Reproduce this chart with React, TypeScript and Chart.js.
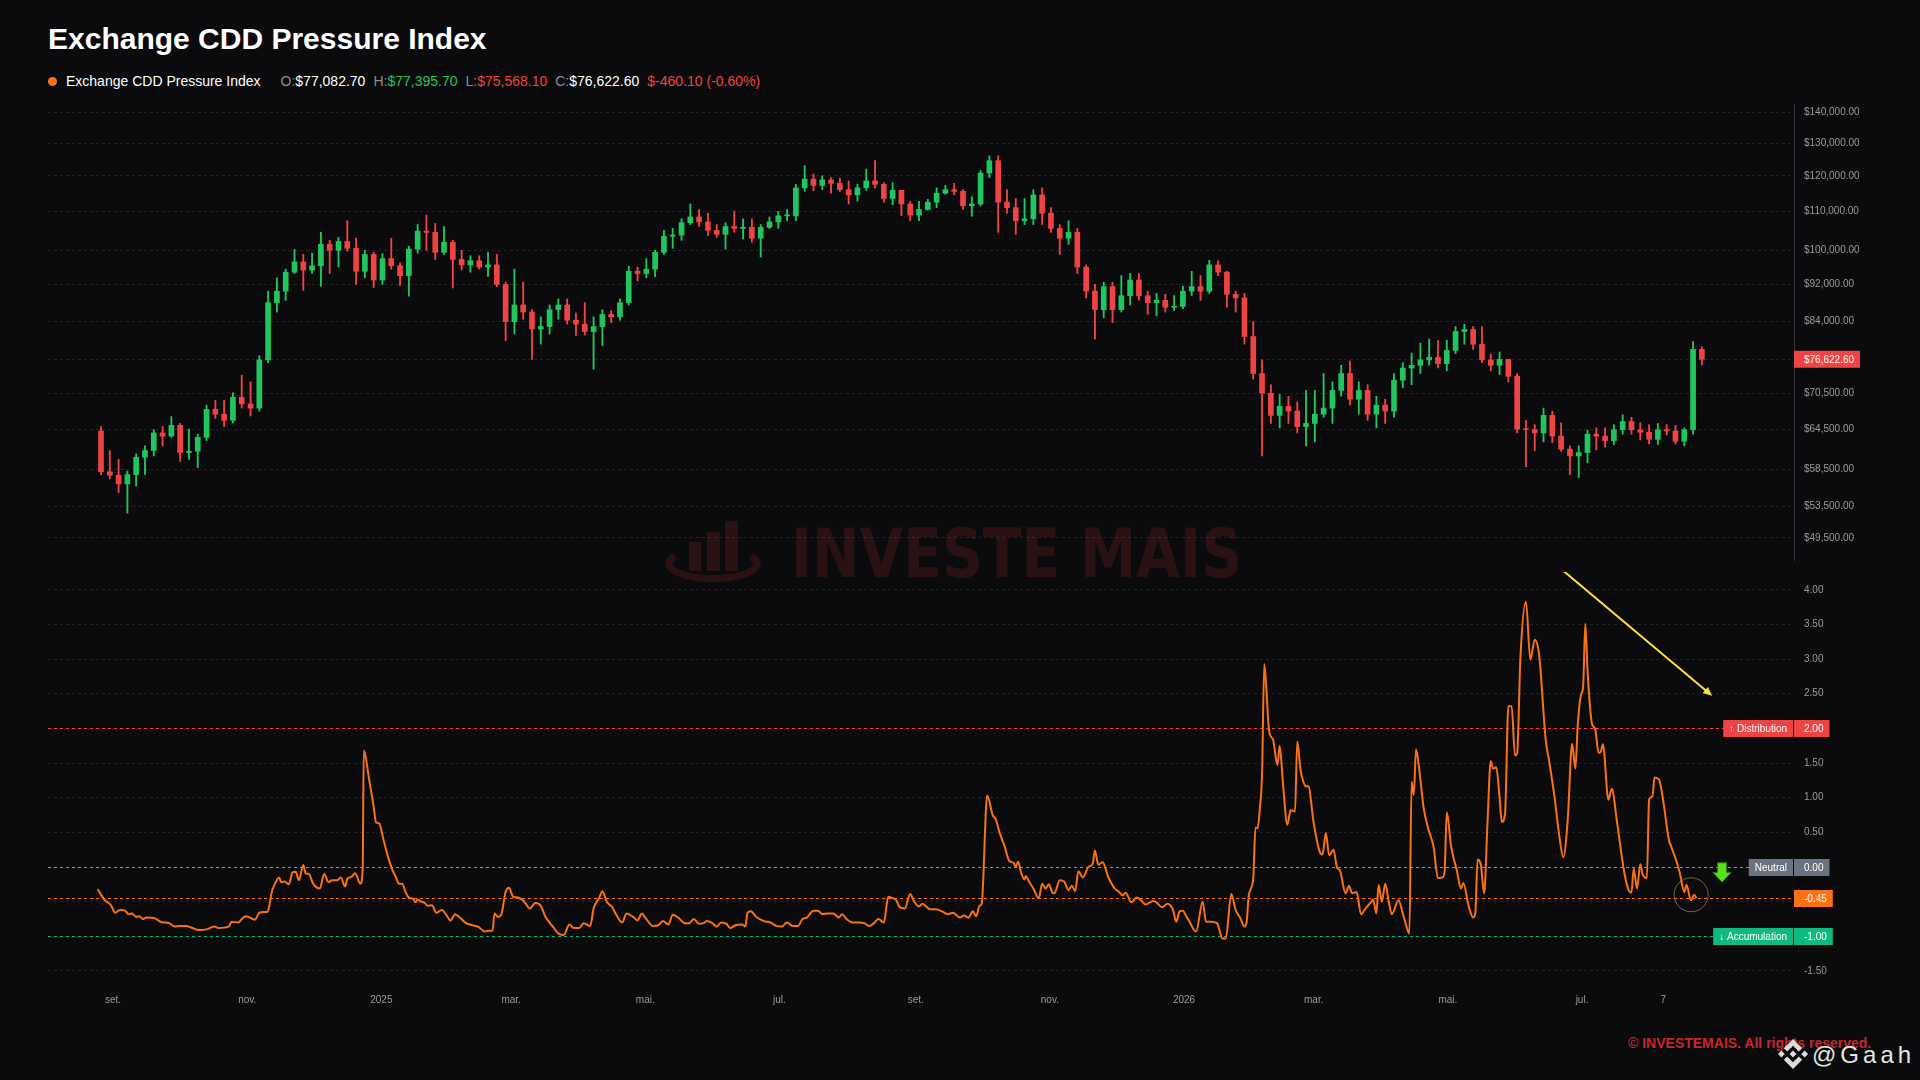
import React, { useEffect, useRef } from 'react';
import Chart from 'chart.js/auto';

const FONT = '"Liberation Sans", Arial, Helvetica, sans-serif';
const BG = '#0b0b0e';
const GREEN = '#22c55e';
const RED = '#ef4444';
const ORANGE = '#f97316';
const TEAL = '#10b981';
const GRID = 'rgba(255, 255, 255, 0.1)';
const TICK = '#9a9a9a';

// x axis is in days since 25 Aug 2024
const X_MIN = -22.6;
const X_MAX = 771.4;
const AXIS_WIDTH = 126;
const PLOT_LEFT = 48;

// BTC candles, one per 4 days (open = previous close)
const CANDLE_DAYS = 4;
const firstOpen = 64300;
const closes = [
  58200, 57700, 56500, 57800, 60300, 61300, 64000, 63500, 65200, 61000,
  61200, 63300, 67800, 67000, 66000, 69800, 68700, 68000, 76500, 88000,
  90500, 94800, 97200, 95300, 96300, 101500, 100000, 102200, 100500, 95000,
  99000, 93000, 98000, 96300, 94000, 100300, 104800, 104500, 99500, 102000,
  97800, 96500, 97500, 96000, 96500, 92000, 84000, 87500, 86000, 82500,
  83000, 86500, 87500, 84300, 83500, 82000, 83000, 85500, 85000, 88000,
  95000, 94500, 95500, 99500, 103500, 103800, 107000, 108500, 107200, 105000,
  104000, 106000, 105500, 105800, 103000, 105800, 107200, 108800, 108800, 116500,
  119000, 117200, 118800, 117800, 116000, 114500, 116500, 118500, 117500, 113500,
  115800, 112000, 109000, 110500, 112500, 115000, 116000, 115500, 111500, 112000,
  120800, 124500, 112500, 111000, 107500, 108000, 114500, 109500, 105500, 103000,
  104500, 96000, 90500, 86500, 91500, 86500, 89500, 93000, 89500, 88000,
  88500, 87000, 87200, 90500, 91500, 90500, 96500, 94800, 89800, 89000,
  81000, 74000, 70500, 66800, 68300, 67500, 65000, 65500, 67000, 68000,
  71000, 74000, 69500, 71000, 67000, 68500, 67500, 72800, 75000, 75500,
  76500, 77000, 75800, 78300, 82000, 82400, 79500, 76500, 75500, 76600,
  73500, 64600, 64500, 64000, 66800, 63500, 61500, 60500, 61000, 63800,
  63500, 62800, 64500, 65800, 64500, 64100, 63000, 64500, 64300, 62700,
  64500, 78500, 76622.6,
];
const highs = [
  65000, 61300, 60000, 58300, 60800, 62000, 64500, 65000, 66600, 65500,
  64600, 63800, 68500, 69300, 69300, 70600, 73700, 72500, 77300, 90500,
  93500, 95500, 100200, 99000, 99300, 104500, 102500, 103200, 107500, 103000,
  100000, 99500, 99200, 103000, 97000, 101000, 106500, 109000, 106800, 106000,
  102500, 100000, 98700, 98700, 99500, 99000, 92500, 95500, 92500, 86500,
  85000, 87500, 88800, 88800, 85800, 88000, 85000, 86500, 86300, 88800,
  96200, 96000, 98000, 100000, 105000, 105500, 108000, 112000, 110500, 109500,
  106500, 107000, 110000, 108000, 108000, 106500, 108500, 110000, 110500, 117500,
  123000, 120500, 120000, 119500, 119300, 118500, 117500, 122000, 124500, 118000,
  118000, 115500, 112700, 112700, 113300, 116500, 117200, 117800, 116000, 114000,
  121500, 126000, 126000, 116000, 113500, 113500, 116000, 116500, 111000, 106500,
  107500, 105500, 96500, 92000, 92500, 92500, 94000, 94500, 94500, 90500,
  90000, 89800, 89500, 91600, 95000, 94000, 97600, 97500, 95000, 90500,
  90000, 84000, 76500, 72000, 70300, 70000, 69000, 71000, 71000, 74000,
  72500, 75500, 76300, 72500, 72000, 70000, 69500, 74000, 76000, 77800,
  79700, 80500, 80200, 80300, 83000, 83500, 83000, 83000, 77600, 78000,
  76500, 74000, 66000, 65300, 68000, 67500, 65600, 62000, 62000, 64400,
  64800, 64800, 65300, 66900, 66500, 65600, 65300, 65500, 65300, 65200,
  64800, 80000, 79000,
];
const lows = [
  57800, 57200, 55300, 52600, 56200, 57800, 60500, 62000, 63300, 59700,
  60000, 58800, 62800, 66300, 65000, 65600, 68000, 66700, 67500, 76000,
  86000, 88500, 94500, 90700, 94500, 91600, 94500, 96000, 99800, 92000,
  93500, 91300, 92000, 95500, 91800, 89400, 99300, 100000, 97800, 99000,
  91200, 95300, 94800, 95500, 93800, 91500, 80200, 81500, 84500, 76600,
  79500, 81500, 84500, 83500, 81200, 81300, 74800, 79200, 83800, 84300,
  87500, 92800, 93500, 93700, 99000, 100500, 102500, 106500, 106000, 103700,
  103200, 100300, 104500, 102800, 102000, 98400, 105500, 105500, 107500, 107500,
  115500, 115700, 116000, 115000, 115500, 112000, 112800, 115800, 116500, 112500,
  111800, 108800, 107500, 107500, 110300, 111000, 114700, 114500, 110500, 108700,
  111500, 119500, 104500, 109500, 104000, 106500, 106500, 106500, 104500, 99000,
  101500, 94500, 89000, 80500, 84800, 83800, 86000, 87500, 88500, 85500,
  85200, 86000, 86300, 86700, 89500, 88500, 90000, 94000, 87000, 86000,
  79500, 73000, 60500, 65500, 64800, 65500, 64000, 62000, 62600, 66500,
  65500, 70000, 68500, 67000, 66000, 64800, 65500, 66500, 71500, 72000,
  74000, 75500, 75000, 74500, 77700, 79500, 78500, 76000, 74500, 73800,
  72500, 64000, 58900, 61300, 62600, 62500, 61200, 57800, 57400, 59500,
  61400, 61800, 62200, 63800, 63800, 62900, 62300, 62200, 63700, 62300,
  62000, 63800, 75568.1,
];

const priceTicks = [140000, 130000, 120000, 110000, 100000, 92000, 84000, 76622.6, 70500, 64500, 58500, 53500, 49500];
const lastPrice = 76622.6;

// Exchange CDD pressure index, read at the turning points of the line
const cddDays = [
  0, 3, 6, 8, 10, 12.5, 14, 15.5, 17.5, 19,
  20.5, 22, 26, 28.5, 32.5, 35, 37.5, 40, 43, 46,
  49.5, 53, 55, 59.5, 61, 64, 65.5, 67.5, 71.5, 73.5,
  75.5, 77, 78, 79, 80.5, 82.5, 83.5, 85, 87, 88.5,
  90, 91.5, 93.5, 94.5, 96, 98, 101, 103, 105, 106.5,
  109, 110.5, 112.5, 113.5, 115.5, 117, 119.5, 120.5, 121, 123.5,
  125.5, 126.5, 128, 130, 132, 134, 135.5, 137, 138.5, 140,
  141.5, 143.5, 144.5, 145.5, 147, 148.5, 150, 152, 154, 156.5,
  158.5, 160.5, 162.5, 165, 167.5, 170.5, 173, 176, 178, 179.5,
  180.5, 182, 183.5, 185.5, 187, 189, 191, 194, 196.5, 199,
  201.5, 203.5, 207, 210, 212, 214.5, 216.5, 219, 221, 224,
  225.5, 228, 229.5, 231.5, 234, 236, 238.5, 240.5, 242, 243.5,
  245.5, 247.5, 249, 252.5, 255, 257, 259.5, 261.5, 264, 267,
  269, 271, 273.5, 275.5, 277, 279.5, 281.5, 283.5, 286, 287.5,
  290, 293, 294.5, 295.5, 297, 299.5, 303, 306, 308.5, 311,
  313.5, 316, 318.5, 320.5, 322.5, 324, 325.5, 327.5, 329.5, 332,
  334.5, 337, 338.5, 340.5, 343.5, 346.5, 348.5, 351, 353, 355,
  357.5, 359.5, 361.5, 363, 364.5, 367, 369.5, 371, 373.5, 375,
  378.5, 381, 384, 386.5, 389, 392, 394, 396, 398, 399.5,
  401, 402, 404.5, 407, 408.5, 410, 412.5, 414.5, 416.5, 417.5,
  418.5, 420, 421.5, 422, 423.5, 425.5, 428, 429.5, 431, 432.5,
  434.5, 435.5, 437.5, 439.5, 441.5, 443, 444.5, 446, 448, 450.5,
  452.5, 453.5, 455, 457, 459.5, 462.5, 464.5, 466, 467.5, 470,
  472.5, 474.5, 476.5, 480, 481.5, 484, 486.5, 489, 490.5, 492,
  493.5, 495, 496, 499.5, 502.5, 504, 506.5, 509, 511.5, 513,
  515.5, 517.5, 519.5, 521.5, 522.5, 523.5, 525.5, 526.5, 527.5, 528.5,
  529.5, 530.5, 531.5, 532.5, 534, 534.5, 536.5, 537.5, 539, 541,
  542.5, 544.5, 545.5, 547, 548, 549.5, 550.5, 553, 555.5, 557,
  558.5, 560, 562, 563.5, 565, 567.5, 569, 570.5, 572.5, 574.5,
  576.5, 579, 580, 581.5, 582.5, 584, 585.5, 587, 588.5, 591.5,
  593.5, 595, 596.5, 597.5, 598.5, 599.5, 601, 603, 605, 607.5,
  609.5, 611.5, 612.5, 613.5, 615.5, 618, 620, 621, 623.5, 625.5,
  626.5, 627.5, 629, 630.5, 632, 633.5, 634.5, 636, 637.5, 638.5,
  640, 641.5, 643, 644.5, 645.5, 647, 649.5, 651.5, 653.5, 655.5,
  658.5, 660, 662.5, 664.5, 666.5, 668.5, 670.5, 672, 673, 674.5,
  675.5, 676.5, 677.5, 679.5, 681, 682.5, 683.5, 684.5, 687, 688.5,
  691, 694, 696, 697.5, 698.5, 700, 701.5, 702.5, 704.5, 705.5,
  707, 708, 710, 712, 714.5, 715.5, 718, 719.5, 721.5, 722.5,
  724.5, 726, 727,
];
const cddValues = [
  -0.32, -0.47, -0.55, -0.66, -0.62, -0.63, -0.68, -0.67, -0.72, -0.71,
  -0.75, -0.73, -0.74, -0.79, -0.81, -0.86, -0.85, -0.85, -0.88, -0.91,
  -0.9, -0.86, -0.88, -0.86, -0.79, -0.8, -0.75, -0.71, -0.76, -0.66,
  -0.65, -0.65, -0.57, -0.38, -0.25, -0.15, -0.22, -0.21, -0.25, -0.08,
  -0.07, -0.19, 0.03, -0.09, -0.1, -0.24, -0.31, -0.1, -0.22, -0.19,
  -0.19, -0.15, -0.28, -0.17, -0.14, -0.09, -0.24, -0.02, 1.68, 1.25,
  0.87, 0.65, 0.63, 0.39, 0.15, -0.04, -0.14, -0.24, -0.24, -0.36,
  -0.44, -0.46, -0.51, -0.47, -0.5, -0.51, -0.56, -0.55, -0.66, -0.62,
  -0.69, -0.77, -0.68, -0.74, -0.81, -0.84, -0.86, -0.93, -0.92, -0.92,
  -0.67, -0.72, -0.69, -0.36, -0.3, -0.43, -0.44, -0.5, -0.6, -0.52,
  -0.56, -0.71, -0.86, -0.97, -0.98, -0.83, -0.88, -0.88, -0.81, -0.85,
  -0.6, -0.45, -0.35, -0.5, -0.58, -0.7, -0.8, -0.67, -0.69, -0.72,
  -0.77, -0.67, -0.73, -0.85, -0.84, -0.78, -0.83, -0.69, -0.73, -0.81,
  -0.81, -0.75, -0.82, -0.81, -0.78, -0.81, -0.86, -0.8, -0.82, -0.88,
  -0.84, -0.83, -0.86, -0.66, -0.64, -0.72, -0.78, -0.8, -0.85, -0.86,
  -0.8, -0.85, -0.85, -0.75, -0.73, -0.67, -0.63, -0.63, -0.68, -0.67,
  -0.67, -0.73, -0.68, -0.75, -0.8, -0.8, -0.81, -0.85, -0.81, -0.75,
  -0.8, -0.43, -0.45, -0.47, -0.57, -0.6, -0.39, -0.48, -0.57, -0.53,
  -0.61, -0.61, -0.64, -0.68, -0.66, -0.73, -0.7, -0.73, -0.64, -0.71,
  -0.56, -0.53, 1.03, 0.75, 0.68, 0.51, 0.29, 0.09, 0.06, 0.0,
  0.08, -0.09, -0.18, -0.13, -0.21, -0.31, -0.45, -0.24, -0.31, -0.25,
  -0.38, -0.36, -0.19, -0.21, -0.33, -0.27, -0.35, -0.06, -0.15, 0.0,
  0.05, 0.24, 0.03, 0.07, -0.14, -0.31, -0.36, -0.41, -0.37, -0.51,
  -0.44, -0.48, -0.54, -0.49, -0.51, -0.58, -0.53, -0.62, -0.79, -0.64,
  -0.63, -0.71, -0.76, -0.93, -0.5, -0.79, -0.79, -0.81, -1.03, -1.03,
  -0.39, -0.62, -0.73, -0.86, -0.79, -0.4, -0.16, 0.57, 0.56, 0.85,
  1.35, 2.93, 2.55, 2.02, 1.86, 1.84, 1.47, 1.75, 1.21, 0.61,
  0.82, 0.8, 1.81, 1.4, 1.26, 1.16, 1.17, 0.63, 0.24, 0.18,
  0.49, 0.17, 0.25, 0.0, -0.06, -0.38, -0.27, -0.38, -0.36, -0.68,
  -0.6, -0.51, -0.47, -0.67, -0.26, -0.5, -0.24, -0.48, -0.68, -0.48,
  -0.67, -0.84, -0.96, 1.23, 1.04, 1.7, 1.4, 0.85, 0.56, 0.29,
  -0.16, -0.15, -0.07, 0.79, 0.29, -0.04, -0.31, -0.23, -0.57, -0.73,
  -0.66, 0.11, 0.03, -0.38, 0.63, 1.53, 1.42, 1.44, 1.01, 0.65,
  0.77, 2.32, 2.32, 1.61, 1.64, 3.03, 3.83, 2.99, 3.28, 3.06,
  1.83, 1.54, 1.01, 0.49, 0.14, 0.68, 1.78, 1.42, 2.02, 2.48,
  2.6, 3.51, 2.84, 2.07, 1.99, 1.65, 1.66, 1.77, 0.97, 1.13,
  0.63, -0.04, -0.32, -0.37, -0.02, -0.31, 0.04, -0.1, -0.16, 0.97,
  1.02, 1.29, 1.26, 0.94, 0.39, 0.3, 0.08, -0.09, -0.36, -0.26,
  -0.48, -0.4, -0.45,
];
const cddTicks = [4, 3.5, 3, 2.5, 2, 1.5, 1, 0.5, 0, -0.5, -1, -1.5];
const hiddenCddLabels = [2, 0, -0.5, -1];

const monthDays = [7, 68, 129, 188, 249, 310, 372, 433, 494, 553, 614, 675, 712];
const monthLabels = ['set.', 'nov.', '2025', 'mar.', 'mai.', 'jul.', 'set.', 'nov.', '2026', 'mar.', 'mai.', 'jul.', '7'];

const levels = [
  { value: 2, name: '↑ Distribution', line: RED, box: RED },
  { value: 0, name: 'Neutral', line: '#8d9098', box: '#6b7280' },
  { value: -0.45, name: '', line: ORANGE, box: ORANGE },
  { value: -1, name: '↓ Accumulation', line: TEAL, box: TEAL },
];

// drawn marks on the indicator panel
const trendArrow = { fromDay: 665.5, fromValue: 4.3, toDay: 734.2, toValue: 2.47 };
const focusCircle = { day: 724.6, value: -0.4, radius: 17 };
const signalArrow = { day: 738.7, topValue: 0.06, bottomValue: -0.22 };

const fmtPrice = (v: number) =>
  '$' + v.toLocaleString('en-US', { minimumFractionDigits: 2, maximumFractionDigits: 2 });

// keep the plot area exactly where the layout padding puts it
const fixAxis = (s: any) => {
  s.width = AXIS_WIDTH;
  s.paddingTop = 0;
  s.paddingBottom = 0;
};

const priceTag = {
  id: 'priceTag',
  afterDraw(chart: any) {
    const { ctx, chartArea, scales } = chart;
    const y = scales.y.getPixelForValue(lastPrice);
    const text = fmtPrice(lastPrice);
    ctx.save();
    ctx.font = `10px ${FONT}`;
    const w = ctx.measureText(text).width + 16;
    ctx.fillStyle = RED;
    ctx.fillRect(chartArea.right, y - 8.5, w, 17);
    ctx.fillStyle = '#ffffff';
    ctx.textBaseline = 'middle';
    ctx.fillText(text, chartArea.right + 10, y + 0.5);
    ctx.restore();
  },
};

const levelMarks = {
  id: 'levelMarks',
  beforeDatasetsDraw(chart: any) {
    const { ctx, chartArea, scales } = chart;
    ctx.save();
    ctx.setLineDash([3, 3]);
    ctx.lineWidth = 1;
    levels.forEach((l) => {
      const y = Math.round(scales.y.getPixelForValue(l.value)) + 0.5;
      ctx.strokeStyle = l.line;
      ctx.beginPath();
      ctx.moveTo(chartArea.left, y);
      ctx.lineTo(chartArea.right, y);
      ctx.stroke();
    });
    ctx.restore();
  },
  afterDraw(chart: any) {
    const { ctx, chartArea, scales } = chart;
    const xs = scales.x;
    const ys = scales.y;
    ctx.save();
    ctx.font = `10px ${FONT}`;
    ctx.textBaseline = 'middle';
    levels.forEach((l) => {
      const y = Math.round(ys.getPixelForValue(l.value)) + 0.5;
      const valueText = l.value.toFixed(2);
      const vw = ctx.measureText(valueText).width + 16;
      ctx.fillStyle = l.box;
      ctx.fillRect(chartArea.right, y - 8.5, vw, 17);
      ctx.fillStyle = '#ffffff';
      ctx.fillText(valueText, chartArea.right + 10, y + 0.5);
      if (l.name) {
        const nw = ctx.measureText(l.name).width + 12;
        ctx.fillStyle = l.box;
        ctx.fillRect(chartArea.right - 1 - nw, y - 8.5, nw, 17);
        ctx.fillStyle = '#ffffff';
        ctx.fillText(l.name, chartArea.right - 1 - nw + 6, y + 0.5);
      }
    });

    // trend arrow
    const ax1 = xs.getPixelForValue(trendArrow.fromDay);
    const ay1 = ys.getPixelForValue(trendArrow.fromValue);
    const ax2 = xs.getPixelForValue(trendArrow.toDay);
    const ay2 = ys.getPixelForValue(trendArrow.toValue);
    const ang = Math.atan2(ay2 - ay1, ax2 - ax1);
    ctx.strokeStyle = '#fde047';
    ctx.fillStyle = '#fde047';
    ctx.lineWidth = 2;
    ctx.beginPath();
    ctx.moveTo(ax1, ay1);
    ctx.lineTo(ax2 - 6 * Math.cos(ang), ay2 - 6 * Math.sin(ang));
    ctx.stroke();
    ctx.beginPath();
    ctx.moveTo(ax2, ay2);
    ctx.lineTo(ax2 - 9 * Math.cos(ang) + 4 * Math.sin(ang), ay2 - 9 * Math.sin(ang) - 4 * Math.cos(ang));
    ctx.lineTo(ax2 - 9 * Math.cos(ang) - 4 * Math.sin(ang), ay2 - 9 * Math.sin(ang) + 4 * Math.cos(ang));
    ctx.closePath();
    ctx.fill();

    // circle around the latest reading
    ctx.lineWidth = 1;
    ctx.strokeStyle = 'rgba(200, 158, 70, 0.6)';
    ctx.beginPath();
    ctx.arc(xs.getPixelForValue(focusCircle.day), ys.getPixelForValue(focusCircle.value), focusCircle.radius, 0, Math.PI * 2);
    ctx.stroke();

    // green down arrow
    const gx = xs.getPixelForValue(signalArrow.day);
    const gTop = ys.getPixelForValue(signalArrow.topValue);
    const gBot = ys.getPixelForValue(signalArrow.bottomValue);
    const gMid = gTop + (gBot - gTop) * 0.5;
    ctx.beginPath();
    ctx.moveTo(gx - 4.5, gTop);
    ctx.lineTo(gx + 4.5, gTop);
    ctx.lineTo(gx + 4.5, gMid);
    ctx.lineTo(gx + 9, gMid);
    ctx.lineTo(gx, gBot);
    ctx.lineTo(gx - 9, gMid);
    ctx.lineTo(gx - 4.5, gMid);
    ctx.closePath();
    ctx.fillStyle = '#5ce01b';
    ctx.fill();
    ctx.strokeStyle = '#2d7a0c';
    ctx.stroke();
    ctx.restore();
  },
};

const App: React.FC = () => {
  const priceRef = useRef<HTMLCanvasElement>(null);
  const cddRef = useRef<HTMLCanvasElement>(null);

  useEffect(() => {
    if (!priceRef.current || !cddRef.current) return;
    Chart.defaults.font.family = FONT;
    Chart.defaults.color = TICK;

    const opens = closes.map((c, i) => (i === 0 ? firstOpen : closes[i - 1]));
    const candleX = closes.map((_, i) => i * CANDLE_DAYS + 1.5);
    const colors = closes.map((c, i) => (c >= opens[i] ? GREEN : RED));

    const priceChart = new Chart(priceRef.current, {
      type: 'bar',
      data: {
        datasets: [
          {
            data: closes.map((_, i) => ({ x: candleX[i], y: [lows[i], highs[i]] })) as any,
            backgroundColor: colors,
            barThickness: 1.2,
            grouped: false,
          },
          {
            data: closes.map((c, i) => ({ x: candleX[i], y: [opens[i], c] })) as any,
            backgroundColor: colors,
            barThickness: 5,
            minBarLength: 1,
            grouped: false,
          },
        ],
      },
      options: {
        animation: false,
        responsive: false,
        events: [],
        layout: { padding: { left: PLOT_LEFT, top: 10, bottom: 30, right: 0 } },
        plugins: { legend: { display: false }, tooltip: { enabled: false } },
        scales: {
          x: { type: 'linear', min: X_MIN, max: X_MAX, display: false, offset: false },
          y: {
            type: 'logarithmic',
            position: 'right',
            min: 46908,
            max: 143010,
            afterBuildTicks: (s: any) => {
              s.ticks = priceTicks.map((value) => ({ value }));
            },
            afterFit: fixAxis,
            ticks: {
              autoSkip: false,
              padding: 10,
              color: TICK,
              font: { size: 10 },
              callback: (v: any) => (Number(v) === lastPrice ? '' : fmtPrice(Number(v))),
            },
            grid: { color: GRID, drawTicks: false },
            border: { display: true, color: '#34343a', dash: [3, 3] },
          },
        },
      },
      plugins: [priceTag],
    });

    const cddChart = new Chart(cddRef.current, {
      type: 'line',
      data: {
        datasets: [
          {
            data: cddDays.map((d, i) => ({ x: d, y: cddValues[i] })),
            borderColor: ORANGE,
            borderWidth: 2,
            pointRadius: 0,
            cubicInterpolationMode: 'monotone',
          },
        ],
      },
      options: {
        animation: false,
        responsive: false,
        events: [],
        layout: { padding: { left: PLOT_LEFT, top: 8, bottom: 8, right: 0 } },
        plugins: { legend: { display: false }, tooltip: { enabled: false } },
        scales: {
          x: {
            type: 'linear',
            min: X_MIN,
            max: X_MAX,
            afterBuildTicks: (s: any) => {
              s.ticks = monthDays.map((value) => ({ value }));
            },
            afterFit: (s: any) => {
              s.height = 30;
            },
            ticks: {
              autoSkip: false,
              maxRotation: 0,
              padding: 12,
              color: TICK,
              font: { size: 10 },
              callback: (v: any) => {
                const i = monthDays.indexOf(Number(v));
                return i >= 0 ? monthLabels[i] : '';
              },
            },
            grid: { display: false, drawTicks: false },
            border: { display: false },
          },
          y: {
            type: 'linear',
            position: 'right',
            min: -1.659,
            max: 4.141,
            afterBuildTicks: (s: any) => {
              s.ticks = cddTicks.map((value) => ({ value }));
            },
            afterFit: fixAxis,
            ticks: {
              autoSkip: false,
              padding: 10,
              color: TICK,
              font: { size: 10 },
              callback: (v: any) => (hiddenCddLabels.includes(Number(v)) ? '' : Number(v).toFixed(2)),
            },
            grid: {
              drawTicks: false,
              color: (c: any) => ([2, 0, -1].includes(c.tick?.value) ? 'rgba(0,0,0,0)' : GRID),
            },
            border: { display: false, dash: [3, 3] },
          },
        },
      },
      plugins: [levelMarks],
    });

    return () => {
      priceChart.destroy();
      cddChart.destroy();
    };
  }, []);

  const label = { color: '#8b8b8b' };

  return (
    <div
      style={{
        position: 'absolute',
        left: 0,
        top: 0,
        width: 1920,
        height: 1080,
        background: BG,
        overflow: 'hidden',
        fontFamily: FONT,
      }}
    >
      <svg width={1920} height={1080} style={{ position: 'absolute', left: 0, top: 0 }}>
        <g fill="#2a1214">
          <rect x={689} y={542} width={12} height={29} />
          <rect x={707} y={532} width={13} height={39} />
          <rect x={725} y={521} width={13} height={50} />
          <text
            x={791}
            y={577}
            fontSize={68}
            fontWeight={700}
            fontFamily='"DejaVu Sans", sans-serif'
            textLength={451}
            lengthAdjust="spacingAndGlyphs"
          >
            INVESTE MAIS
          </text>
        </g>
        <path d="M 675 556 A 44 15 0 1 0 751 556" fill="none" stroke="#2a1214" strokeWidth={7} />
      </svg>

      <div style={{ position: 'absolute', left: 48, top: 21, fontSize: 30, fontWeight: 700, color: '#ffffff', lineHeight: '36px' }}>
        Exchange CDD Pressure Index
      </div>
      <div
        style={{
          position: 'absolute',
          left: 48,
          top: 73,
          display: 'flex',
          alignItems: 'center',
          fontSize: 14,
          lineHeight: '16px',
          color: '#ffffff',
          whiteSpace: 'nowrap',
        }}
      >
        <span style={{ width: 9, height: 9, borderRadius: '50%', background: ORANGE, marginRight: 9 }} />
        <span style={{ marginRight: 20 }}>Exchange CDD Pressure Index</span>
        <span style={{ marginRight: 8 }}>
          <span style={label}>O:</span>$77,082.70
        </span>
        <span style={{ marginRight: 8 }}>
          <span style={label}>H:</span>
          <span style={{ color: GREEN }}>$77,395.70</span>
        </span>
        <span style={{ marginRight: 8 }}>
          <span style={label}>L:</span>
          <span style={{ color: RED }}>$75,568.10</span>
        </span>
        <span style={{ marginRight: 8 }}>
          <span style={label}>C:</span>$76,622.60
        </span>
        <span style={{ color: RED }}>$-460.10 (-0.60%)</span>
      </div>

      <canvas ref={priceRef} width={1920} height={496} style={{ position: 'absolute', left: 0, top: 94 }} />
      <canvas ref={cddRef} width={1920} height={448} style={{ position: 'absolute', left: 0, top: 572 }} />

      <div style={{ position: 'absolute', left: 1628, top: 1036, fontSize: 14, fontWeight: 700, color: '#c62828', lineHeight: '14px', whiteSpace: 'nowrap' }}>
        © INVESTEMAIS. All rights reserved.
      </div>
      <svg width={30} height={30} viewBox="0 0 126.61 126.61" style={{ position: 'absolute', left: 1778, top: 1039 }}>
        <g fill="#dcdcdc">
          <path d="M38.73 53.2l24.59-24.58 24.6 24.6 14.3-14.31L63.32 0 24.42 38.9l14.31 14.3zM0 63.31l14.3-14.31 14.31 14.31-14.31 14.3zM38.73 73.41l24.59 24.59 24.6-24.6 14.31 14.29-38.9 38.91-38.91-38.88-.02-.02 14.33-14.29zM98.28 63.31l14.3-14.31 14.31 14.31-14.31 14.3z" />
          <path d="M77.83 63.3L63.32 48.78 52.59 59.51l-1.24 1.23-2.54 2.54-.02.02.02.03 14.51 14.5 14.51-14.52.01-.01-.01-.01z" />
        </g>
      </svg>
      <div style={{ position: 'absolute', left: 1812, top: 1043, fontSize: 24, letterSpacing: 4, color: '#e4e4e4', lineHeight: '24px', whiteSpace: 'nowrap' }}>
        @Gaah
      </div>
    </div>
  );
};

export default App;
